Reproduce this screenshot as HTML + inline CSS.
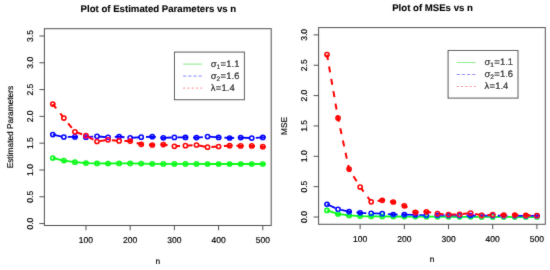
<!DOCTYPE html>
<html><head><meta charset="utf-8"><style>
html,body{margin:0;padding:0;background:#fff;}
svg{display:block;}
text{text-rendering:geometricPrecision;font-family:"Liberation Sans",Arial,sans-serif;fill:#000;stroke:#000;stroke-width:0.18px;}
.tk{font-size:8.5px;}
.lb{font-size:8.35px;}
.ti{font-size:9.65px;font-weight:bold;fill:#000;stroke-width:0.1px;}
.lg{font-size:9.4px;}
.sub{font-size:6.6px;}
</style></head><body>
<svg width="550" height="270" viewBox="0 0 550 270">
<defs><filter id="bl" x="0" y="0" width="550" height="270" filterUnits="userSpaceOnUse"><feConvolveMatrix order="3" kernelMatrix="0.02 0.06 0.02 0.06 0.68 0.06 0.02 0.06 0.02" edgeMode="duplicate" preserveAlpha="false"/></filter></defs>
<rect width="550" height="270" fill="#fff"/>
<g filter="url(#bl)">
<rect x="44.4" y="28.7" width="226.80" height="196.80" fill="none" stroke="#505050" stroke-width="1"/>
<line x1="85.96" y1="225.5" x2="85.96" y2="230.3" stroke="#505050" stroke-width="1"/>
<text x="85.96" y="243.10" class="tk" text-anchor="middle">100</text>
<line x1="130.17" y1="225.5" x2="130.17" y2="230.3" stroke="#505050" stroke-width="1"/>
<text x="130.17" y="243.10" class="tk" text-anchor="middle">200</text>
<line x1="174.38" y1="225.5" x2="174.38" y2="230.3" stroke="#505050" stroke-width="1"/>
<text x="174.38" y="243.10" class="tk" text-anchor="middle">300</text>
<line x1="218.59" y1="225.5" x2="218.59" y2="230.3" stroke="#505050" stroke-width="1"/>
<text x="218.59" y="243.10" class="tk" text-anchor="middle">400</text>
<line x1="262.80" y1="225.5" x2="262.80" y2="230.3" stroke="#505050" stroke-width="1"/>
<text x="262.80" y="243.10" class="tk" text-anchor="middle">500</text>
<line x1="39.4" y1="223.57" x2="44.4" y2="223.57" stroke="#505050" stroke-width="1"/>
<text transform="translate(32.60,223.57) rotate(-90)" class="tk" text-anchor="middle">0.0</text>
<line x1="39.4" y1="196.77" x2="44.4" y2="196.77" stroke="#505050" stroke-width="1"/>
<text transform="translate(32.60,196.77) rotate(-90)" class="tk" text-anchor="middle">0.5</text>
<line x1="39.4" y1="169.98" x2="44.4" y2="169.98" stroke="#505050" stroke-width="1"/>
<text transform="translate(32.60,169.98) rotate(-90)" class="tk" text-anchor="middle">1.0</text>
<line x1="39.4" y1="143.18" x2="44.4" y2="143.18" stroke="#505050" stroke-width="1"/>
<text transform="translate(32.60,143.18) rotate(-90)" class="tk" text-anchor="middle">1.5</text>
<line x1="39.4" y1="116.38" x2="44.4" y2="116.38" stroke="#505050" stroke-width="1"/>
<text transform="translate(32.60,116.38) rotate(-90)" class="tk" text-anchor="middle">2.0</text>
<line x1="39.4" y1="89.58" x2="44.4" y2="89.58" stroke="#505050" stroke-width="1"/>
<text transform="translate(32.60,89.58) rotate(-90)" class="tk" text-anchor="middle">2.5</text>
<line x1="39.4" y1="62.79" x2="44.4" y2="62.79" stroke="#505050" stroke-width="1"/>
<text transform="translate(32.60,62.79) rotate(-90)" class="tk" text-anchor="middle">3.0</text>
<line x1="39.4" y1="35.99" x2="44.4" y2="35.99" stroke="#505050" stroke-width="1"/>
<text transform="translate(32.60,35.99) rotate(-90)" class="tk" text-anchor="middle">3.5</text>
<text x="157.80" y="263.50" class="lb" text-anchor="middle">n</text>
<text transform="translate(12.50,127.10) rotate(-90)" class="lb" text-anchor="middle">Estimated Parameters</text>
<text x="158.40" y="11.60" class="ti" text-anchor="middle">Plot of Estimated Parameters vs n</text>
<mask id="m44_0" maskUnits="userSpaceOnUse" x="0" y="0" width="550" height="270"><rect width="550" height="270" fill="#fff"/></mask>
<g mask="url(#m44_0)">
<polyline points="52.80,158.00 63.85,160.60 74.91,162.20 85.96,163.10 97.01,163.40 108.06,163.50 119.12,163.40 130.17,163.40 141.22,163.60 152.27,163.80 163.33,163.90 174.38,163.90 185.43,163.90 196.48,163.90 207.54,164.00 218.59,164.00 229.64,164.00 240.69,164.00 251.75,164.00 262.80,164.00" fill="none" stroke="#08fa18" stroke-width="1.8" stroke-linejoin="round"/>
</g>
<circle cx="52.80" cy="158.00" r="2.1" fill="none" stroke="#08fa18" stroke-width="1.55"/>
<line x1="61.03" y1="160.06" x2="66.68" y2="161.14" stroke="#08fa18" stroke-width="1.8"/>
<circle cx="63.85" cy="160.60" r="2.1" fill="none" stroke="#08fa18" stroke-width="1.55"/>
<line x1="72.05" y1="161.88" x2="77.76" y2="162.52" stroke="#08fa18" stroke-width="1.8"/>
<circle cx="74.91" cy="162.20" r="2.1" fill="none" stroke="#08fa18" stroke-width="1.55"/>
<line x1="83.09" y1="162.94" x2="88.83" y2="163.26" stroke="#08fa18" stroke-width="1.8"/>
<circle cx="85.96" cy="163.10" r="2.1" fill="none" stroke="#08fa18" stroke-width="1.55"/>
<line x1="94.14" y1="163.35" x2="99.89" y2="163.45" stroke="#08fa18" stroke-width="1.8"/>
<circle cx="97.01" cy="163.40" r="2.1" fill="none" stroke="#08fa18" stroke-width="1.55"/>
<line x1="105.19" y1="163.50" x2="110.94" y2="163.50" stroke="#08fa18" stroke-width="1.8"/>
<circle cx="108.06" cy="163.50" r="2.1" fill="none" stroke="#08fa18" stroke-width="1.55"/>
<line x1="116.24" y1="163.41" x2="121.99" y2="163.39" stroke="#08fa18" stroke-width="1.8"/>
<circle cx="119.12" cy="163.40" r="2.1" fill="none" stroke="#08fa18" stroke-width="1.55"/>
<line x1="127.29" y1="163.37" x2="133.04" y2="163.43" stroke="#08fa18" stroke-width="1.8"/>
<circle cx="130.17" cy="163.40" r="2.1" fill="none" stroke="#08fa18" stroke-width="1.55"/>
<line x1="138.35" y1="163.55" x2="144.10" y2="163.65" stroke="#08fa18" stroke-width="1.8"/>
<circle cx="141.22" cy="163.60" r="2.1" fill="none" stroke="#08fa18" stroke-width="1.55"/>
<line x1="149.40" y1="163.76" x2="155.15" y2="163.84" stroke="#08fa18" stroke-width="1.8"/>
<circle cx="152.27" cy="163.80" r="2.1" fill="none" stroke="#08fa18" stroke-width="1.55"/>
<line x1="160.45" y1="163.89" x2="166.20" y2="163.91" stroke="#08fa18" stroke-width="1.8"/>
<circle cx="163.33" cy="163.90" r="2.1" fill="none" stroke="#08fa18" stroke-width="1.55"/>
<line x1="171.50" y1="163.90" x2="177.25" y2="163.90" stroke="#08fa18" stroke-width="1.8"/>
<circle cx="174.38" cy="163.90" r="2.1" fill="none" stroke="#08fa18" stroke-width="1.55"/>
<line x1="182.56" y1="163.90" x2="188.31" y2="163.90" stroke="#08fa18" stroke-width="1.8"/>
<circle cx="185.43" cy="163.90" r="2.1" fill="none" stroke="#08fa18" stroke-width="1.55"/>
<line x1="193.61" y1="163.89" x2="199.36" y2="163.91" stroke="#08fa18" stroke-width="1.8"/>
<circle cx="196.48" cy="163.90" r="2.1" fill="none" stroke="#08fa18" stroke-width="1.55"/>
<line x1="204.66" y1="163.99" x2="210.41" y2="164.01" stroke="#08fa18" stroke-width="1.8"/>
<circle cx="207.54" cy="164.00" r="2.1" fill="none" stroke="#08fa18" stroke-width="1.55"/>
<line x1="215.71" y1="164.00" x2="221.46" y2="164.00" stroke="#08fa18" stroke-width="1.8"/>
<circle cx="218.59" cy="164.00" r="2.1" fill="none" stroke="#08fa18" stroke-width="1.55"/>
<line x1="226.77" y1="164.00" x2="232.52" y2="164.00" stroke="#08fa18" stroke-width="1.8"/>
<circle cx="229.64" cy="164.00" r="2.1" fill="none" stroke="#08fa18" stroke-width="1.55"/>
<line x1="237.82" y1="164.00" x2="243.57" y2="164.00" stroke="#08fa18" stroke-width="1.8"/>
<circle cx="240.69" cy="164.00" r="2.1" fill="none" stroke="#08fa18" stroke-width="1.55"/>
<line x1="248.87" y1="164.00" x2="254.62" y2="164.00" stroke="#08fa18" stroke-width="1.8"/>
<circle cx="251.75" cy="164.00" r="2.1" fill="none" stroke="#08fa18" stroke-width="1.55"/>
<line x1="259.93" y1="164.00" x2="265.68" y2="164.00" stroke="#08fa18" stroke-width="1.8"/>
<circle cx="262.80" cy="164.00" r="2.1" fill="none" stroke="#08fa18" stroke-width="1.55"/>
<mask id="m44_1" maskUnits="userSpaceOnUse" x="0" y="0" width="550" height="270"><rect width="550" height="270" fill="#fff"/><circle cx="63.85" cy="137.00" r="1.33" fill="#000"/><circle cx="97.01" cy="136.30" r="1.33" fill="#000"/><circle cx="108.06" cy="137.30" r="1.33" fill="#000"/><circle cx="130.17" cy="137.80" r="1.33" fill="#000"/><circle cx="141.22" cy="137.20" r="1.33" fill="#000"/><circle cx="174.38" cy="137.40" r="1.33" fill="#000"/><circle cx="207.54" cy="136.60" r="1.33" fill="#000"/><circle cx="251.75" cy="138.10" r="1.33" fill="#000"/></mask>
<g mask="url(#m44_1)">
<polyline points="52.80,134.60 63.85,137.00 74.91,136.90 85.96,137.20 97.01,136.30 108.06,137.30 119.12,136.70 130.17,137.80 141.22,137.20 152.27,136.70 163.33,137.80 174.38,137.40 185.43,137.40 196.48,137.60 207.54,136.60 218.59,137.40 229.64,138.00 240.69,137.60 251.75,138.10 262.80,137.40" fill="none" stroke="#0000ff" stroke-width="1.8" stroke-linejoin="round" stroke-dasharray="9.8 5.9" stroke-dashoffset="0.5"/>
</g>
<circle cx="52.80" cy="134.60" r="2.1" fill="none" stroke="#0000ff" stroke-width="1.55"/>
<circle cx="63.85" cy="137.00" r="2.1" fill="none" stroke="#0000ff" stroke-width="1.55"/>
<line x1="72.03" y1="136.87" x2="77.78" y2="136.93" stroke="#0000ff" stroke-width="1.8"/>
<circle cx="74.91" cy="136.90" r="2.1" fill="none" stroke="#0000ff" stroke-width="1.55"/>
<line x1="83.08" y1="137.28" x2="88.83" y2="137.12" stroke="#0000ff" stroke-width="1.8"/>
<circle cx="85.96" cy="137.20" r="2.1" fill="none" stroke="#0000ff" stroke-width="1.55"/>
<circle cx="97.01" cy="136.30" r="2.1" fill="none" stroke="#0000ff" stroke-width="1.55"/>
<circle cx="108.06" cy="137.30" r="2.1" fill="none" stroke="#0000ff" stroke-width="1.55"/>
<line x1="116.24" y1="136.64" x2="121.99" y2="136.76" stroke="#0000ff" stroke-width="1.8"/>
<circle cx="119.12" cy="136.70" r="2.1" fill="none" stroke="#0000ff" stroke-width="1.55"/>
<circle cx="130.17" cy="137.80" r="2.1" fill="none" stroke="#0000ff" stroke-width="1.55"/>
<circle cx="141.22" cy="137.20" r="2.1" fill="none" stroke="#0000ff" stroke-width="1.55"/>
<line x1="149.40" y1="136.62" x2="155.15" y2="136.78" stroke="#0000ff" stroke-width="1.8"/>
<circle cx="152.27" cy="136.70" r="2.1" fill="none" stroke="#0000ff" stroke-width="1.55"/>
<line x1="160.45" y1="137.71" x2="166.20" y2="137.89" stroke="#0000ff" stroke-width="1.8"/>
<circle cx="163.33" cy="137.80" r="2.1" fill="none" stroke="#0000ff" stroke-width="1.55"/>
<circle cx="174.38" cy="137.40" r="2.1" fill="none" stroke="#0000ff" stroke-width="1.55"/>
<line x1="182.56" y1="137.37" x2="188.31" y2="137.43" stroke="#0000ff" stroke-width="1.8"/>
<circle cx="185.43" cy="137.40" r="2.1" fill="none" stroke="#0000ff" stroke-width="1.55"/>
<line x1="193.61" y1="137.70" x2="199.36" y2="137.50" stroke="#0000ff" stroke-width="1.8"/>
<circle cx="196.48" cy="137.60" r="2.1" fill="none" stroke="#0000ff" stroke-width="1.55"/>
<circle cx="207.54" cy="136.60" r="2.1" fill="none" stroke="#0000ff" stroke-width="1.55"/>
<line x1="215.72" y1="137.22" x2="221.46" y2="137.58" stroke="#0000ff" stroke-width="1.8"/>
<circle cx="218.59" cy="137.40" r="2.1" fill="none" stroke="#0000ff" stroke-width="1.55"/>
<line x1="226.77" y1="137.97" x2="232.52" y2="138.03" stroke="#0000ff" stroke-width="1.8"/>
<circle cx="229.64" cy="138.00" r="2.1" fill="none" stroke="#0000ff" stroke-width="1.55"/>
<line x1="237.82" y1="137.59" x2="243.57" y2="137.61" stroke="#0000ff" stroke-width="1.8"/>
<circle cx="240.69" cy="137.60" r="2.1" fill="none" stroke="#0000ff" stroke-width="1.55"/>
<circle cx="251.75" cy="138.10" r="2.1" fill="none" stroke="#0000ff" stroke-width="1.55"/>
<line x1="259.93" y1="137.58" x2="265.67" y2="137.22" stroke="#0000ff" stroke-width="1.8"/>
<circle cx="262.80" cy="137.40" r="2.1" fill="none" stroke="#0000ff" stroke-width="1.55"/>
<mask id="m44_2" maskUnits="userSpaceOnUse" x="0" y="0" width="550" height="270"><rect width="550" height="270" fill="#fff"/><circle cx="63.85" cy="118.00" r="1.33" fill="#000"/><circle cx="74.91" cy="131.80" r="1.33" fill="#000"/><circle cx="85.96" cy="135.60" r="1.33" fill="#000"/><circle cx="97.01" cy="141.50" r="1.33" fill="#000"/><circle cx="108.06" cy="139.80" r="1.33" fill="#000"/><circle cx="119.12" cy="140.90" r="1.33" fill="#000"/><circle cx="174.38" cy="146.30" r="1.33" fill="#000"/><circle cx="185.43" cy="145.70" r="1.33" fill="#000"/><circle cx="196.48" cy="145.00" r="1.33" fill="#000"/><circle cx="207.54" cy="147.20" r="1.33" fill="#000"/><circle cx="218.59" cy="146.50" r="1.33" fill="#000"/></mask>
<g mask="url(#m44_2)">
<polyline points="52.80,104.00 63.85,118.00 74.91,131.80 85.96,135.60 97.01,141.50 108.06,139.80 119.12,140.90 130.17,141.10 141.22,144.30 152.27,145.00 163.33,144.60 174.38,146.30 185.43,145.70 196.48,145.00 207.54,147.20 218.59,146.50 229.64,145.70 240.69,145.90 251.75,145.90 262.80,146.70" fill="none" stroke="#ff0000" stroke-width="2.0" stroke-linejoin="round" stroke-dasharray="6 6.55" stroke-dashoffset="0.5"/>
</g>
<circle cx="52.80" cy="104.00" r="2.1" fill="none" stroke="#ff0000" stroke-width="1.55"/>
<circle cx="63.85" cy="118.00" r="2.1" fill="none" stroke="#ff0000" stroke-width="1.55"/>
<circle cx="74.91" cy="131.80" r="2.1" fill="none" stroke="#ff0000" stroke-width="1.55"/>
<circle cx="85.96" cy="135.60" r="2.1" fill="none" stroke="#ff0000" stroke-width="1.55"/>
<circle cx="97.01" cy="141.50" r="2.1" fill="none" stroke="#ff0000" stroke-width="1.55"/>
<circle cx="108.06" cy="139.80" r="2.1" fill="none" stroke="#ff0000" stroke-width="1.55"/>
<circle cx="119.12" cy="140.90" r="2.1" fill="none" stroke="#ff0000" stroke-width="1.55"/>
<line x1="127.33" y1="140.67" x2="133.01" y2="141.53" stroke="#ff0000" stroke-width="2.0"/>
<circle cx="130.17" cy="141.10" r="2.1" fill="none" stroke="#ff0000" stroke-width="1.55"/>
<line x1="138.39" y1="143.81" x2="144.05" y2="144.79" stroke="#ff0000" stroke-width="2.0"/>
<circle cx="141.22" cy="144.30" r="2.1" fill="none" stroke="#ff0000" stroke-width="1.55"/>
<line x1="149.40" y1="144.96" x2="155.15" y2="145.04" stroke="#ff0000" stroke-width="2.0"/>
<circle cx="152.27" cy="145.00" r="2.1" fill="none" stroke="#ff0000" stroke-width="1.55"/>
<line x1="160.46" y1="144.43" x2="166.20" y2="144.77" stroke="#ff0000" stroke-width="2.0"/>
<circle cx="163.33" cy="144.60" r="2.1" fill="none" stroke="#ff0000" stroke-width="1.55"/>
<circle cx="174.38" cy="146.30" r="2.1" fill="none" stroke="#ff0000" stroke-width="1.55"/>
<circle cx="185.43" cy="145.70" r="2.1" fill="none" stroke="#ff0000" stroke-width="1.55"/>
<circle cx="196.48" cy="145.00" r="2.1" fill="none" stroke="#ff0000" stroke-width="1.55"/>
<circle cx="207.54" cy="147.20" r="2.1" fill="none" stroke="#ff0000" stroke-width="1.55"/>
<circle cx="218.59" cy="146.50" r="2.1" fill="none" stroke="#ff0000" stroke-width="1.55"/>
<line x1="226.77" y1="145.78" x2="232.52" y2="145.62" stroke="#ff0000" stroke-width="2.0"/>
<circle cx="229.64" cy="145.70" r="2.1" fill="none" stroke="#ff0000" stroke-width="1.55"/>
<line x1="237.82" y1="145.87" x2="243.57" y2="145.93" stroke="#ff0000" stroke-width="2.0"/>
<circle cx="240.69" cy="145.90" r="2.1" fill="none" stroke="#ff0000" stroke-width="1.55"/>
<line x1="248.87" y1="145.80" x2="254.62" y2="146.00" stroke="#ff0000" stroke-width="2.0"/>
<circle cx="251.75" cy="145.90" r="2.1" fill="none" stroke="#ff0000" stroke-width="1.55"/>
<line x1="259.93" y1="146.49" x2="265.67" y2="146.91" stroke="#ff0000" stroke-width="2.0"/>
<circle cx="262.80" cy="146.70" r="2.1" fill="none" stroke="#ff0000" stroke-width="1.55"/>
<rect x="174.50" y="52.10" width="69.9" height="47.6" fill="#fff" stroke="#505050" stroke-width="1"/>
<line x1="183.10" y1="64.10" x2="202.10" y2="64.10" stroke="#80ee80" stroke-width="1"/>
<text x="210.80" y="67.00" class="lg">σ<tspan class="sub" dy="1.8">1</tspan><tspan dy="-1.8" dx="0.3">=</tspan><tspan dx="0.3">1.1</tspan></text>
<line x1="183.10" y1="76.10" x2="202.10" y2="76.10" stroke="#8080ff" stroke-width="1" stroke-dasharray="3.2 1.96"/>
<text x="210.80" y="79.00" class="lg">σ<tspan class="sub" dy="1.8">2</tspan><tspan dy="-1.8" dx="0.3">=</tspan><tspan dx="0.3">1.6</tspan></text>
<line x1="183.10" y1="88.10" x2="202.10" y2="88.10" stroke="#ff8080" stroke-width="1" stroke-dasharray="2 2.33"/>
<text x="210.80" y="91.00" class="lg">λ<tspan dx="0.3">=</tspan><tspan dx="0.3">1.4</tspan></text>
<rect x="318.6" y="27.6" width="226.70" height="196.70" fill="none" stroke="#505050" stroke-width="1"/>
<line x1="360.14" y1="224.3" x2="360.14" y2="229.10000000000002" stroke="#505050" stroke-width="1"/>
<text x="360.14" y="241.90" class="tk" text-anchor="middle">100</text>
<line x1="404.33" y1="224.3" x2="404.33" y2="229.10000000000002" stroke="#505050" stroke-width="1"/>
<text x="404.33" y="241.90" class="tk" text-anchor="middle">200</text>
<line x1="448.52" y1="224.3" x2="448.52" y2="229.10000000000002" stroke="#505050" stroke-width="1"/>
<text x="448.52" y="241.90" class="tk" text-anchor="middle">300</text>
<line x1="492.71" y1="224.3" x2="492.71" y2="229.10000000000002" stroke="#505050" stroke-width="1"/>
<text x="492.71" y="241.90" class="tk" text-anchor="middle">400</text>
<line x1="536.90" y1="224.3" x2="536.90" y2="229.10000000000002" stroke="#505050" stroke-width="1"/>
<text x="536.90" y="241.90" class="tk" text-anchor="middle">500</text>
<line x1="313.6" y1="217.01" x2="318.6" y2="217.01" stroke="#505050" stroke-width="1"/>
<text transform="translate(306.80,217.01) rotate(-90)" class="tk" text-anchor="middle">0.0</text>
<line x1="313.6" y1="186.66" x2="318.6" y2="186.66" stroke="#505050" stroke-width="1"/>
<text transform="translate(306.80,186.66) rotate(-90)" class="tk" text-anchor="middle">0.5</text>
<line x1="313.6" y1="156.30" x2="318.6" y2="156.30" stroke="#505050" stroke-width="1"/>
<text transform="translate(306.80,156.30) rotate(-90)" class="tk" text-anchor="middle">1.0</text>
<line x1="313.6" y1="125.95" x2="318.6" y2="125.95" stroke="#505050" stroke-width="1"/>
<text transform="translate(306.80,125.95) rotate(-90)" class="tk" text-anchor="middle">1.5</text>
<line x1="313.6" y1="95.60" x2="318.6" y2="95.60" stroke="#505050" stroke-width="1"/>
<text transform="translate(306.80,95.60) rotate(-90)" class="tk" text-anchor="middle">2.0</text>
<line x1="313.6" y1="65.24" x2="318.6" y2="65.24" stroke="#505050" stroke-width="1"/>
<text transform="translate(306.80,65.24) rotate(-90)" class="tk" text-anchor="middle">2.5</text>
<line x1="313.6" y1="34.89" x2="318.6" y2="34.89" stroke="#505050" stroke-width="1"/>
<text transform="translate(306.80,34.89) rotate(-90)" class="tk" text-anchor="middle">3.0</text>
<text x="431.95" y="262.30" class="lb" text-anchor="middle">n</text>
<text transform="translate(286.70,125.95) rotate(-90)" class="lb" text-anchor="middle">MSE</text>
<text x="432.55" y="10.50" class="ti" text-anchor="middle">Plot of MSEs vs n</text>
<mask id="m319_0" maskUnits="userSpaceOnUse" x="0" y="0" width="550" height="270"><rect width="550" height="270" fill="#fff"/></mask>
<g mask="url(#m319_0)">
<polyline points="327.00,210.40 338.04,213.90 349.09,215.40 360.14,216.10 371.19,216.30 382.24,216.40 393.28,216.50 404.33,216.60 415.38,216.60 426.43,216.70 437.47,216.70 448.52,216.80 459.57,216.80 470.62,216.80 481.66,216.90 492.71,216.90 503.76,216.90 514.81,217.00 525.86,217.00 536.90,217.00" fill="none" stroke="#08fa18" stroke-width="1.8" stroke-linejoin="round"/>
</g>
<circle cx="327.00" cy="210.40" r="2.1" fill="none" stroke="#08fa18" stroke-width="1.55"/>
<line x1="335.24" y1="213.27" x2="340.85" y2="214.53" stroke="#08fa18" stroke-width="1.8"/>
<circle cx="338.04" cy="213.90" r="2.1" fill="none" stroke="#08fa18" stroke-width="1.55"/>
<line x1="346.23" y1="215.12" x2="351.95" y2="215.68" stroke="#08fa18" stroke-width="1.8"/>
<circle cx="349.09" cy="215.40" r="2.1" fill="none" stroke="#08fa18" stroke-width="1.55"/>
<line x1="357.27" y1="215.98" x2="363.01" y2="216.22" stroke="#08fa18" stroke-width="1.8"/>
<circle cx="360.14" cy="216.10" r="2.1" fill="none" stroke="#08fa18" stroke-width="1.55"/>
<line x1="368.31" y1="216.26" x2="374.06" y2="216.34" stroke="#08fa18" stroke-width="1.8"/>
<circle cx="371.19" cy="216.30" r="2.1" fill="none" stroke="#08fa18" stroke-width="1.55"/>
<line x1="379.36" y1="216.37" x2="385.11" y2="216.43" stroke="#08fa18" stroke-width="1.8"/>
<circle cx="382.24" cy="216.40" r="2.1" fill="none" stroke="#08fa18" stroke-width="1.55"/>
<line x1="390.41" y1="216.47" x2="396.16" y2="216.53" stroke="#08fa18" stroke-width="1.8"/>
<circle cx="393.28" cy="216.50" r="2.1" fill="none" stroke="#08fa18" stroke-width="1.55"/>
<line x1="401.46" y1="216.59" x2="407.21" y2="216.61" stroke="#08fa18" stroke-width="1.8"/>
<circle cx="404.33" cy="216.60" r="2.1" fill="none" stroke="#08fa18" stroke-width="1.55"/>
<line x1="412.50" y1="216.59" x2="418.25" y2="216.61" stroke="#08fa18" stroke-width="1.8"/>
<circle cx="415.38" cy="216.60" r="2.1" fill="none" stroke="#08fa18" stroke-width="1.55"/>
<line x1="423.55" y1="216.69" x2="429.30" y2="216.71" stroke="#08fa18" stroke-width="1.8"/>
<circle cx="426.43" cy="216.70" r="2.1" fill="none" stroke="#08fa18" stroke-width="1.55"/>
<line x1="434.60" y1="216.69" x2="440.35" y2="216.71" stroke="#08fa18" stroke-width="1.8"/>
<circle cx="437.47" cy="216.70" r="2.1" fill="none" stroke="#08fa18" stroke-width="1.55"/>
<line x1="445.65" y1="216.79" x2="451.40" y2="216.81" stroke="#08fa18" stroke-width="1.8"/>
<circle cx="448.52" cy="216.80" r="2.1" fill="none" stroke="#08fa18" stroke-width="1.55"/>
<line x1="456.69" y1="216.80" x2="462.44" y2="216.80" stroke="#08fa18" stroke-width="1.8"/>
<circle cx="459.57" cy="216.80" r="2.1" fill="none" stroke="#08fa18" stroke-width="1.55"/>
<line x1="467.74" y1="216.79" x2="473.49" y2="216.81" stroke="#08fa18" stroke-width="1.8"/>
<circle cx="470.62" cy="216.80" r="2.1" fill="none" stroke="#08fa18" stroke-width="1.55"/>
<line x1="478.79" y1="216.89" x2="484.54" y2="216.91" stroke="#08fa18" stroke-width="1.8"/>
<circle cx="481.66" cy="216.90" r="2.1" fill="none" stroke="#08fa18" stroke-width="1.55"/>
<line x1="489.84" y1="216.90" x2="495.59" y2="216.90" stroke="#08fa18" stroke-width="1.8"/>
<circle cx="492.71" cy="216.90" r="2.1" fill="none" stroke="#08fa18" stroke-width="1.55"/>
<line x1="500.89" y1="216.89" x2="506.64" y2="216.91" stroke="#08fa18" stroke-width="1.8"/>
<circle cx="503.76" cy="216.90" r="2.1" fill="none" stroke="#08fa18" stroke-width="1.55"/>
<line x1="511.93" y1="216.99" x2="517.68" y2="217.01" stroke="#08fa18" stroke-width="1.8"/>
<circle cx="514.81" cy="217.00" r="2.1" fill="none" stroke="#08fa18" stroke-width="1.55"/>
<line x1="522.98" y1="217.00" x2="528.73" y2="217.00" stroke="#08fa18" stroke-width="1.8"/>
<circle cx="525.86" cy="217.00" r="2.1" fill="none" stroke="#08fa18" stroke-width="1.55"/>
<line x1="534.03" y1="217.00" x2="539.78" y2="217.00" stroke="#08fa18" stroke-width="1.8"/>
<circle cx="536.90" cy="217.00" r="2.1" fill="none" stroke="#08fa18" stroke-width="1.55"/>
<mask id="m319_1" maskUnits="userSpaceOnUse" x="0" y="0" width="550" height="270"><rect width="550" height="270" fill="#fff"/><circle cx="338.04" cy="209.30" r="1.33" fill="#000"/><circle cx="371.19" cy="213.30" r="1.33" fill="#000"/><circle cx="382.24" cy="213.70" r="1.33" fill="#000"/><circle cx="426.43" cy="215.30" r="1.33" fill="#000"/><circle cx="459.57" cy="215.50" r="1.33" fill="#000"/><circle cx="492.71" cy="215.70" r="1.33" fill="#000"/><circle cx="525.86" cy="215.90" r="1.33" fill="#000"/></mask>
<g mask="url(#m319_1)">
<polyline points="327.00,204.30 338.04,209.30 349.09,211.70 360.14,212.80 371.19,213.30 382.24,213.70 393.28,214.50 404.33,214.70 415.38,215.00 426.43,215.30 437.47,215.30 448.52,215.40 459.57,215.50 470.62,215.50 481.66,215.60 492.71,215.70 503.76,215.80 514.81,215.80 525.86,215.90 536.90,215.90" fill="none" stroke="#0000ff" stroke-width="1.8" stroke-linejoin="round" stroke-dasharray="9.8 5.9" stroke-dashoffset="0.5"/>
</g>
<circle cx="327.00" cy="204.30" r="2.1" fill="none" stroke="#0000ff" stroke-width="1.55"/>
<circle cx="338.04" cy="209.30" r="2.1" fill="none" stroke="#0000ff" stroke-width="1.55"/>
<line x1="346.25" y1="211.25" x2="351.93" y2="212.15" stroke="#0000ff" stroke-width="1.8"/>
<circle cx="349.09" cy="211.70" r="2.1" fill="none" stroke="#0000ff" stroke-width="1.55"/>
<line x1="357.27" y1="212.59" x2="363.01" y2="213.01" stroke="#0000ff" stroke-width="1.8"/>
<circle cx="360.14" cy="212.80" r="2.1" fill="none" stroke="#0000ff" stroke-width="1.55"/>
<circle cx="371.19" cy="213.30" r="2.1" fill="none" stroke="#0000ff" stroke-width="1.55"/>
<circle cx="382.24" cy="213.70" r="2.1" fill="none" stroke="#0000ff" stroke-width="1.55"/>
<line x1="390.41" y1="214.37" x2="396.15" y2="214.63" stroke="#0000ff" stroke-width="1.8"/>
<circle cx="393.28" cy="214.50" r="2.1" fill="none" stroke="#0000ff" stroke-width="1.55"/>
<line x1="401.46" y1="214.63" x2="407.20" y2="214.77" stroke="#0000ff" stroke-width="1.8"/>
<circle cx="404.33" cy="214.70" r="2.1" fill="none" stroke="#0000ff" stroke-width="1.55"/>
<line x1="412.50" y1="214.92" x2="418.25" y2="215.08" stroke="#0000ff" stroke-width="1.8"/>
<circle cx="415.38" cy="215.00" r="2.1" fill="none" stroke="#0000ff" stroke-width="1.55"/>
<circle cx="426.43" cy="215.30" r="2.1" fill="none" stroke="#0000ff" stroke-width="1.55"/>
<line x1="434.60" y1="215.29" x2="440.35" y2="215.31" stroke="#0000ff" stroke-width="1.8"/>
<circle cx="437.47" cy="215.30" r="2.1" fill="none" stroke="#0000ff" stroke-width="1.55"/>
<line x1="445.65" y1="215.37" x2="451.40" y2="215.43" stroke="#0000ff" stroke-width="1.8"/>
<circle cx="448.52" cy="215.40" r="2.1" fill="none" stroke="#0000ff" stroke-width="1.55"/>
<circle cx="459.57" cy="215.50" r="2.1" fill="none" stroke="#0000ff" stroke-width="1.55"/>
<line x1="467.74" y1="215.49" x2="473.49" y2="215.51" stroke="#0000ff" stroke-width="1.8"/>
<circle cx="470.62" cy="215.50" r="2.1" fill="none" stroke="#0000ff" stroke-width="1.55"/>
<line x1="478.79" y1="215.57" x2="484.54" y2="215.63" stroke="#0000ff" stroke-width="1.8"/>
<circle cx="481.66" cy="215.60" r="2.1" fill="none" stroke="#0000ff" stroke-width="1.55"/>
<circle cx="492.71" cy="215.70" r="2.1" fill="none" stroke="#0000ff" stroke-width="1.55"/>
<line x1="500.89" y1="215.79" x2="506.64" y2="215.81" stroke="#0000ff" stroke-width="1.8"/>
<circle cx="503.76" cy="215.80" r="2.1" fill="none" stroke="#0000ff" stroke-width="1.55"/>
<line x1="511.93" y1="215.79" x2="517.68" y2="215.81" stroke="#0000ff" stroke-width="1.8"/>
<circle cx="514.81" cy="215.80" r="2.1" fill="none" stroke="#0000ff" stroke-width="1.55"/>
<circle cx="525.86" cy="215.90" r="2.1" fill="none" stroke="#0000ff" stroke-width="1.55"/>
<line x1="534.03" y1="215.90" x2="539.78" y2="215.90" stroke="#0000ff" stroke-width="1.8"/>
<circle cx="536.90" cy="215.90" r="2.1" fill="none" stroke="#0000ff" stroke-width="1.55"/>
<mask id="m319_2" maskUnits="userSpaceOnUse" x="0" y="0" width="550" height="270"><rect width="550" height="270" fill="#fff"/><circle cx="360.14" cy="187.00" r="1.33" fill="#000"/><circle cx="371.19" cy="201.80" r="1.33" fill="#000"/><circle cx="437.47" cy="213.70" r="1.33" fill="#000"/><circle cx="448.52" cy="214.60" r="1.33" fill="#000"/><circle cx="459.57" cy="214.30" r="1.33" fill="#000"/><circle cx="470.62" cy="213.00" r="1.33" fill="#000"/><circle cx="481.66" cy="215.30" r="1.33" fill="#000"/><circle cx="492.71" cy="214.70" r="1.33" fill="#000"/><circle cx="536.90" cy="215.60" r="1.33" fill="#000"/></mask>
<g mask="url(#m319_2)">
<polyline points="327.00,54.60 338.04,118.00 349.09,169.10 360.14,187.00 371.19,201.80 382.24,200.30 393.28,202.00 404.33,205.80 415.38,212.40 426.43,211.80 437.47,213.70 448.52,214.60 459.57,214.30 470.62,213.00 481.66,215.30 492.71,214.70 503.76,215.10 514.81,215.00 525.86,215.30 536.90,215.60" fill="none" stroke="#ff0000" stroke-width="2.0" stroke-linejoin="round" stroke-dasharray="6 6.55" stroke-dashoffset="0.5"/>
</g>
<circle cx="327.00" cy="54.60" r="2.1" fill="none" stroke="#ff0000" stroke-width="1.55"/>
<line x1="337.49" y1="115.18" x2="338.59" y2="120.82" stroke="#ff0000" stroke-width="2.0"/>
<circle cx="338.04" cy="118.00" r="2.1" fill="none" stroke="#ff0000" stroke-width="1.55"/>
<line x1="348.02" y1="166.43" x2="350.17" y2="171.77" stroke="#ff0000" stroke-width="2.0"/>
<circle cx="349.09" cy="169.10" r="2.1" fill="none" stroke="#ff0000" stroke-width="1.55"/>
<circle cx="360.14" cy="187.00" r="2.1" fill="none" stroke="#ff0000" stroke-width="1.55"/>
<circle cx="371.19" cy="201.80" r="2.1" fill="none" stroke="#ff0000" stroke-width="1.55"/>
<line x1="379.36" y1="200.27" x2="385.11" y2="200.33" stroke="#ff0000" stroke-width="2.0"/>
<circle cx="382.24" cy="200.30" r="2.1" fill="none" stroke="#ff0000" stroke-width="1.55"/>
<line x1="390.49" y1="201.31" x2="396.07" y2="202.69" stroke="#ff0000" stroke-width="2.0"/>
<circle cx="393.28" cy="202.00" r="2.1" fill="none" stroke="#ff0000" stroke-width="1.55"/>
<line x1="401.72" y1="204.59" x2="406.94" y2="207.01" stroke="#ff0000" stroke-width="2.0"/>
<circle cx="404.33" cy="205.80" r="2.1" fill="none" stroke="#ff0000" stroke-width="1.55"/>
<line x1="412.59" y1="211.71" x2="418.17" y2="213.09" stroke="#ff0000" stroke-width="2.0"/>
<circle cx="415.38" cy="212.40" r="2.1" fill="none" stroke="#ff0000" stroke-width="1.55"/>
<line x1="423.56" y1="211.63" x2="429.30" y2="211.97" stroke="#ff0000" stroke-width="2.0"/>
<circle cx="426.43" cy="211.80" r="2.1" fill="none" stroke="#ff0000" stroke-width="1.55"/>
<circle cx="437.47" cy="213.70" r="2.1" fill="none" stroke="#ff0000" stroke-width="1.55"/>
<circle cx="448.52" cy="214.60" r="2.1" fill="none" stroke="#ff0000" stroke-width="1.55"/>
<circle cx="459.57" cy="214.30" r="2.1" fill="none" stroke="#ff0000" stroke-width="1.55"/>
<circle cx="470.62" cy="213.00" r="2.1" fill="none" stroke="#ff0000" stroke-width="1.55"/>
<circle cx="481.66" cy="215.30" r="2.1" fill="none" stroke="#ff0000" stroke-width="1.55"/>
<circle cx="492.71" cy="214.70" r="2.1" fill="none" stroke="#ff0000" stroke-width="1.55"/>
<line x1="500.89" y1="215.06" x2="506.64" y2="215.14" stroke="#ff0000" stroke-width="2.0"/>
<circle cx="503.76" cy="215.10" r="2.1" fill="none" stroke="#ff0000" stroke-width="1.55"/>
<line x1="511.93" y1="214.97" x2="517.68" y2="215.03" stroke="#ff0000" stroke-width="2.0"/>
<circle cx="514.81" cy="215.00" r="2.1" fill="none" stroke="#ff0000" stroke-width="1.55"/>
<line x1="522.98" y1="215.22" x2="528.73" y2="215.38" stroke="#ff0000" stroke-width="2.0"/>
<circle cx="525.86" cy="215.30" r="2.1" fill="none" stroke="#ff0000" stroke-width="1.55"/>
<circle cx="536.90" cy="215.60" r="2.1" fill="none" stroke="#ff0000" stroke-width="1.55"/>
<rect x="448.10" y="50.50" width="69.9" height="47.6" fill="#fff" stroke="#505050" stroke-width="1"/>
<line x1="456.70" y1="62.50" x2="475.70" y2="62.50" stroke="#80ee80" stroke-width="1"/>
<text x="484.40" y="65.40" class="lg">σ<tspan class="sub" dy="1.8">1</tspan><tspan dy="-1.8" dx="0.3">=</tspan><tspan dx="0.3">1.1</tspan></text>
<line x1="456.70" y1="74.50" x2="475.70" y2="74.50" stroke="#8080ff" stroke-width="1" stroke-dasharray="3.2 1.96"/>
<text x="484.40" y="77.40" class="lg">σ<tspan class="sub" dy="1.8">2</tspan><tspan dy="-1.8" dx="0.3">=</tspan><tspan dx="0.3">1.6</tspan></text>
<line x1="456.70" y1="86.50" x2="475.70" y2="86.50" stroke="#ff8080" stroke-width="1" stroke-dasharray="2 2.33"/>
<text x="484.40" y="89.40" class="lg">λ<tspan dx="0.3">=</tspan><tspan dx="0.3">1.4</tspan></text>
</g>
</svg>
</body></html>
